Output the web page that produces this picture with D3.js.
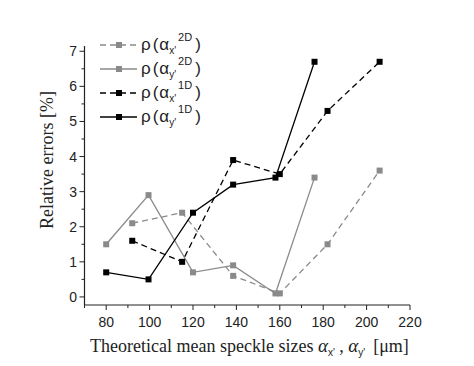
<!DOCTYPE html>
<html lang="en">
<head>
  <meta charset="UTF-8">
  <title>Relative errors vs speckle size</title>
  <script src="https://d3js.org/d3.v7.min.js"></script>
  <style>
    body { margin: 0; background: #fff; }
    svg { display: block; }
    .tick-label { font-family: "Liberation Sans", Arial, sans-serif; font-size: 14px; fill: #222; }
    .axis-title { font-family: "Liberation Serif", "Times New Roman", serif; font-size: 18px; fill: #222; }
    .legend-text { font-family: "Liberation Sans", Arial, sans-serif; font-size: 17px; fill: #222; }
  </style>
</head>
<body>
<script>
  // sizes along x (y' series and x' series sit at slightly different positions)
  const sizesY = [80, 99.5, 120, 138.5, 158, 176];
  const sizesX = [92, 115, 138.5, 160, 182, 206];

  // relative errors [%]
  const rhoX2D = [2.1, 2.4, 0.6, 0.1, 1.5, 3.6];
  const rhoY2D = [1.5, 2.9, 0.7, 0.9, 0.1, 3.4];
  const rhoX1D = [1.6, 1.0, 3.9, 3.5, 5.3, 6.7];
  const rhoY1D = [0.7, 0.5, 2.4, 3.2, 3.4, 6.7];

  const xTicks = [80, 100, 120, 140, 160, 180, 200, 220];
  const yTicks = [0, 1, 2, 3, 4, 5, 6, 7];

  const series = [
    { sub: "x'", sup: '2D', xs: sizesX, ys: rhoX2D, color: '#8a8a8a', dash: '6,4' },
    { sub: "y'", sup: '2D', xs: sizesY, ys: rhoY2D, color: '#8a8a8a', dash: null },
    { sub: "x'", sup: '1D', xs: sizesX, ys: rhoX1D, color: '#000', dash: '6,4' },
    { sub: "y'", sup: '1D', xs: sizesY, ys: rhoY1D, color: '#000', dash: null }
  ];

  const W = 474, H = 366;
  const svg = d3.select('body').append('svg').attr('width', W).attr('height', H);

  const x = d3.scaleLinear().domain([70, 220]).range([84.5, 410]);
  const y = d3.scaleLinear().domain([-0.23, 7.15]).range([305, 46]);

  // axes
  const axisColor = '#222';
  svg.append('line').attr('x1', x(70)).attr('x2', x(220)).attr('y1', y(-0.23)).attr('y2', y(-0.23))
    .attr('stroke', axisColor).attr('stroke-width', 1.2);
  svg.append('line').attr('x1', x(70)).attr('x2', x(70)).attr('y1', y(-0.23)).attr('y2', y(7.15))
    .attr('stroke', axisColor).attr('stroke-width', 1.2);

  // x ticks (major + minor)
  d3.range(70, 221, 10).forEach(v => {
    const major = v % 20 === 0;
    svg.append('line').attr('x1', x(v)).attr('x2', x(v))
      .attr('y1', y(-0.23)).attr('y2', y(-0.23) + (major ? 5 : 3))
      .attr('stroke', axisColor).attr('stroke-width', 1);
  });
  svg.selectAll('.xlab').data(xTicks).enter().append('text')
    .attr('class', 'tick-label')
    .attr('x', d => x(d)).attr('y', 327)
    .attr('text-anchor', 'middle').text(d => d);

  // y ticks (major + minor)
  d3.range(0, 7.01, 0.5).forEach(v => {
    const major = Number.isInteger(v);
    svg.append('line').attr('x1', x(70)).attr('x2', x(70) - (major ? 5 : 3))
      .attr('y1', y(v)).attr('y2', y(v))
      .attr('stroke', axisColor).attr('stroke-width', 1);
  });
  svg.selectAll('.ylab').data(yTicks).enter().append('text')
    .attr('class', 'tick-label')
    .attr('x', 77).attr('y', d => y(d) + 5)
    .attr('text-anchor', 'end').text(d => d);

  // lines + markers
  const line = d3.line().x(d => x(d[0])).y(d => y(d[1]));
  series.forEach(s => {
    const pts = s.xs.map((v, i) => [v, s.ys[i]]);
    svg.append('path').datum(pts).attr('d', line)
      .attr('fill', 'none').attr('stroke', s.color).attr('stroke-width', 1.3)
      .attr('stroke-dasharray', s.dash);
    svg.selectAll(null).data(pts).enter().append('rect')
      .attr('x', d => x(d[0]) - 3).attr('y', d => y(d[1]) - 3)
      .attr('width', 6).attr('height', 6).attr('fill', s.color);
  });

  // legend
  const legY = [45, 69, 93, 117];
  series.forEach((s, i) => {
    const ly = legY[i];
    svg.append('line').attr('x1', 100).attr('x2', 137).attr('y1', ly).attr('y2', ly)
      .attr('stroke', s.color).attr('stroke-width', 1.3).attr('stroke-dasharray', s.dash);
    svg.append('rect').attr('x', 116).attr('y', ly - 3).attr('width', 6).attr('height', 6).attr('fill', s.color);
    const t = svg.append('text').attr('class', 'legend-text').attr('x', 141).attr('y', ly + 5);
    t.append('tspan').text('ρ');
    t.append('tspan').attr('dx', 2).text('(');
    t.append('tspan').attr('dx', 1).text('α');
    t.append('tspan').attr('dy', 4).attr('font-size', 10).text(s.sub);
    t.append('tspan').attr('dy', -13).attr('dx', 2).attr('font-size', 11).text(s.sup);
    t.append('tspan').attr('dy', 9).attr('dx', 3).text(')');
  });

  // axis titles
  const xt = svg.append('text').attr('class', 'axis-title').attr('x', 90).attr('y', 352);
  xt.append('tspan').text('Theoretical mean speckle sizes ');
  xt.append('tspan').attr('font-style', 'italic').attr('font-size', 19).text('α');
  xt.append('tspan').attr('dy', 4).attr('font-size', 10).attr('font-family', 'Liberation Sans, Arial').text("x'");
  xt.append('tspan').attr('dy', -4).text(' , ');
  xt.append('tspan').attr('font-style', 'italic').attr('font-size', 19).text('α');
  xt.append('tspan').attr('dy', 4).attr('font-size', 10).attr('font-family', 'Liberation Sans, Arial').text("y'");
  xt.append('tspan').attr('dy', -4).attr('dx', 8).text('[μm]');

  svg.append('text').attr('class', 'axis-title')
    .attr('transform', 'translate(53,160) rotate(-90)')
    .attr('text-anchor', 'middle').text('Relative errors [%]');
</script>
</body>
</html>
